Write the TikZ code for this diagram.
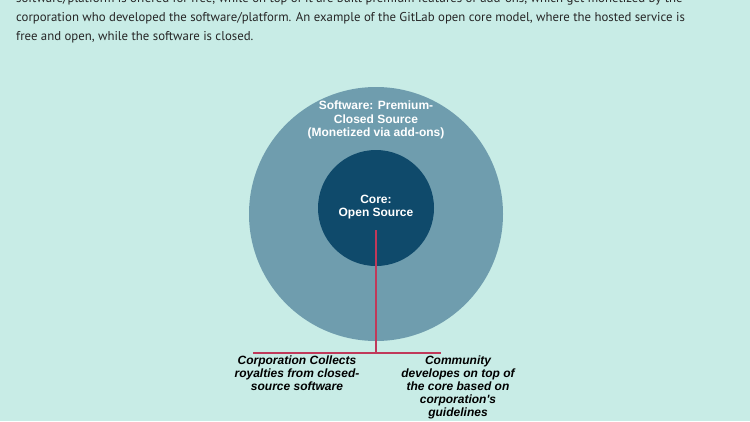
\documentclass[tikz,border=0pt]{standalone}
\usepackage{fontspec}
\setmainfont{Liberation Sans}
\newfontfamily\ptsans{PT Sans}
\definecolor{bg}{HTML}{C8ECE6}
\definecolor{outerc}{HTML}{6F9DAE}
\definecolor{innerc}{HTML}{0F4A6B}
\definecolor{redl}{HTML}{C0395A}
\begin{document}
\begin{tikzpicture}[x=1pt,y=-1pt,
  intro/.style={anchor=west,inner sep=0,font=\ptsans\fontsize{12.8}{14}\selectfont,text=black!85},
  ctext/.style={align=center,text=white,font=\bfseries\fontsize{12}{13.2}\selectfont,inner sep=0},
  btext/.style={align=center,text=black,font=\bfseries\itshape\fontsize{12}{13}\selectfont,inner sep=0,anchor=north},
  link/.style={draw=redl,line width=1.2pt}]
\useasboundingbox (0,0) rectangle (750,421);
\fill[bg] (0,0) rectangle (750,421);
\begin{scope}
\clip (0,0) rectangle (750,421);
\node[intro] (l1) at (16,-1) {software/platform is offered for free, while on top of it are built premium features or add-ons, which get monetized by the};
\node[intro] (l2) at (16,18) {corporation who developed the software/platform. An example of the GitLab open core model, where the hosted service is};
\node[intro] (l3) at (16,37) {free and open, while the software is closed.};
\end{scope}
\fill[outerc] (376,214) circle (127);
\fill[innerc] (376,208) circle (58);
\node[ctext] (outer) at (376,120) {Software: Premium-\\Closed Source\\(Monetized via add-ons)};
\node[ctext] (core) at (376,207) {Core:\\Open Source};
\coordinate (top) at (376,230);
\coordinate (mid) at (376,353);
\coordinate (left) at (253,353);
\coordinate (right) at (441,353);
\draw[link] (top) -- (mid);
\draw[link] (left) -- (right);
\node[btext] (corp) at (297,356) {Corporation Collects\\royalties from closed-\\source software};
\node[btext] (comm) at (458,356) {Community\\developes on top of\\the core based on\\corporation\textquotesingle s\\guidelines};
\end{tikzpicture}
\end{document}
